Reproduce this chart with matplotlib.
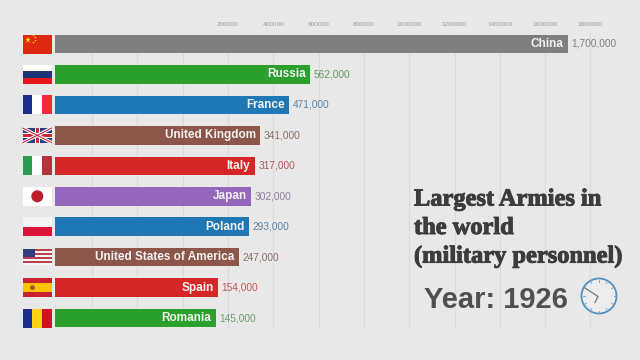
import numpy as np
import matplotlib
matplotlib.use('Agg')
import matplotlib.pyplot as plt
import matplotlib.patheffects as pe
from matplotlib.patches import Rectangle, Circle

countries = ['China', 'Russia', 'France', 'United Kingdom', 'Italy', 'Japan', 'Poland',
             'United States of America', 'Spain', 'Romania']
personnel = [1700000, 562000, 471000, 341000, 317000, 302000, 293000, 247000, 154000, 145000]
bar_colors = ['#7f7f7f', '#2ca02c', '#1f77b4', '#8c564b', '#d62728', '#9467bd', '#1f77b4',
              '#8c564b', '#d62728', '#2ca02c']
value_colors = ['#808080', '#5e9a5e', '#5a86ac', '#8a6f68', '#ad5a5c', '#8d7aa2', '#5a86ac',
                '#8a6f68', '#c4585a', '#6f9d6f']
tick_values = [200000, 400000, 600000, 800000, 1000000, 1200000, 1400000, 1600000, 1800000]
grid_values = [-400000, -200000, 0] + tick_values
title_lines = ['Largest Armies in', 'the world', '(military personnel)']
year_label = 'Year: 1926'

BG = '#e8e8e8'
PX_PER_UNIT = 45.3 / 200000
ZERO_PX = 182.7
BAR_START = (55.5 - ZERO_PX) / PX_PER_UNIT
ROW_TOP = 44.0
ROW_STEP = 30.45


def flag_stripes(ax, y, colors, vertical=True, h=19):
    x0, w = 22.5, 29.5
    n = len(colors)
    for i, c in enumerate(colors):
        if vertical:
            ax.add_patch(Rectangle((x0 + i * w / n, y - h / 2), w / n, h, fc=c, lw=0))
        else:
            ax.add_patch(Rectangle((x0, y - h / 2 + i * h / n), w, h / n, fc=c, lw=0))


def draw_flags(ax, ys):
    # china
    flag_stripes(ax, ys[0], ['#de2910'])
    ax.plot([27.5], [ys[0] - 4.5], marker='*', ms=5, color='#ffde00', mew=0)
    for dx, dy in [(5.5, -6.5), (7.5, -4), (7.5, -1.5), (5.5, 0.5)]:
        ax.plot([27.5 + dx], [ys[0] - 4.5 + dy + 1.5], marker='*', ms=1.8, color='#ffde00', mew=0)
    flag_stripes(ax, ys[1], ['#ffffff', '#1c3578', '#e4181c'], vertical=False)
    flag_stripes(ax, ys[2], ['#1b2f8a', '#ffffff', '#ee2a3d'])
    # uk
    y = ys[3]
    flag_stripes(ax, y, ['#2b3a7e'], h=15)
    x0, x1, t, b = 22.5, 52, y - 7.5, y + 7.5
    ax.plot([x0, x1], [t, b], color='white', lw=2.4, solid_capstyle='butt')
    ax.plot([x0, x1], [b, t], color='white', lw=2.4, solid_capstyle='butt')
    ax.plot([x0, x1], [t, b], color='#c8283c', lw=0.8, solid_capstyle='butt')
    ax.plot([x0, x1], [b, t], color='#c8283c', lw=0.8, solid_capstyle='butt')
    ax.add_patch(Rectangle((x0, y - 2.5), x1 - x0, 5, fc='white', lw=0))
    ax.add_patch(Rectangle((35, t), 4.5, 15, fc='white', lw=0))
    ax.add_patch(Rectangle((x0, y - 1.5), x1 - x0, 3, fc='#c8283c', lw=0))
    ax.add_patch(Rectangle((35.8, t), 3, 15, fc='#c8283c', lw=0))
    flag_stripes(ax, ys[4], ['#2c9a50', '#ffffff', '#b8323e'])
    # japan
    flag_stripes(ax, ys[5], ['#ffffff'])
    ax.add_patch(Circle((37.3, ys[5]), 6, fc='#bc1e2c', lw=0))
    flag_stripes(ax, ys[6], ['#f4f4f4', '#dc143c'], vertical=False)
    # usa
    y = ys[7]
    flag_stripes(ax, y, ['#b8404c', '#f4f4f4'] * 4, vertical=False, h=16)
    ax.add_patch(Rectangle((22.5, y - 8), 12, 8, fc='#2f3f7e', lw=0))
    # spain
    y = ys[8]
    flag_stripes(ax, y, ['#c8202c', '#fcc400', '#fcc400', '#c8202c'], vertical=False)
    ax.add_patch(Circle((32.5, y), 2.4, fc='#a8552a', lw=0))
    flag_stripes(ax, ys[9], ['#1b2f8a', '#fcd116', '#ce1126'])


def draw_clock(ax, cx, cy, r):
    ax.add_patch(Circle((cx, cy), r, fc='#ececec', ec='#4f94c4', lw=1.3))
    for a in np.deg2rad(np.arange(0, 360, 30)):
        ax.plot([cx + (r - 3) * np.cos(a), cx + (r - 1) * np.cos(a)],
                [cy + (r - 3) * np.sin(a), cy + (r - 1) * np.sin(a)], color='#7fa8c4', lw=0.7)
    ax.plot([585, 598, 595], [288, 296.5, 302.5], color='#6f7f72', lw=0.9)


fig = plt.figure(figsize=(6.4, 3.6), dpi=100, facecolor=BG)
ax = fig.add_axes([0, 0, 1, 1], facecolor=BG)
ax.set_xlim(-ZERO_PX / PX_PER_UNIT, (640 - ZERO_PX) / PX_PER_UNIT)
ax.set_ylim(360, 0)
for s in ax.spines.values():
    s.set_visible(False)
ax.set_xticks([])
ax.set_yticks([])

rows = [ROW_TOP + i * ROW_STEP for i in range(len(countries))]
ax.vlines(grid_values, 33, 329, color='#dadada', lw=0.8, zorder=1)
for t in tick_values:
    ax.text(t, 24.5, str(t), ha='center', va='center', fontsize=4.6, color='#9a9a9a',
            family='Liberation Sans')

ends = np.array(personnel)
bars = ax.barh(rows, ends - BAR_START, left=BAR_START, height=18.5, color=bar_colors, zorder=2)
for y, end, name, val, vc in zip(rows, ends, countries, personnel, value_colors):
    ax.text(end - 4.2 / PX_PER_UNIT, y, name, ha='right', va='center', color='#f2f2f2',
            fontsize=8.5, fontweight='bold', family='Liberation Sans', zorder=3)
    ax.text(end + 3.7 / PX_PER_UNIT, y, f'{val:,}', ha='left', va='center', color=vc,
            fontsize=7.3, family='Liberation Sans', zorder=3)

# overlay in pixel coordinates for flags, clock and the captions
fa = fig.add_axes([0, 0, 1, 1])
fa.patch.set_alpha(0)
fa.set_xlim(0, 640)
fa.set_ylim(360, 0)
fa.axis('off')
draw_flags(fa, rows)
draw_clock(fa, 599, 296, 17.5)
for y, line in zip([200, 228.5, 257], title_lines):
    fa.text(414, y, line, ha='left', va='center', fontsize=17.6, fontweight='bold',
            family='Liberation Serif', color='#3c3c3c',
            path_effects=[pe.withStroke(linewidth=0.7, foreground='#3c3c3c')])
fa.text(424, 300.5, year_label, ha='left', va='center', fontsize=21, fontweight='bold',
        family='Liberation Sans', color='#505050')

fig.savefig('out.png', dpi=100, facecolor=BG)
